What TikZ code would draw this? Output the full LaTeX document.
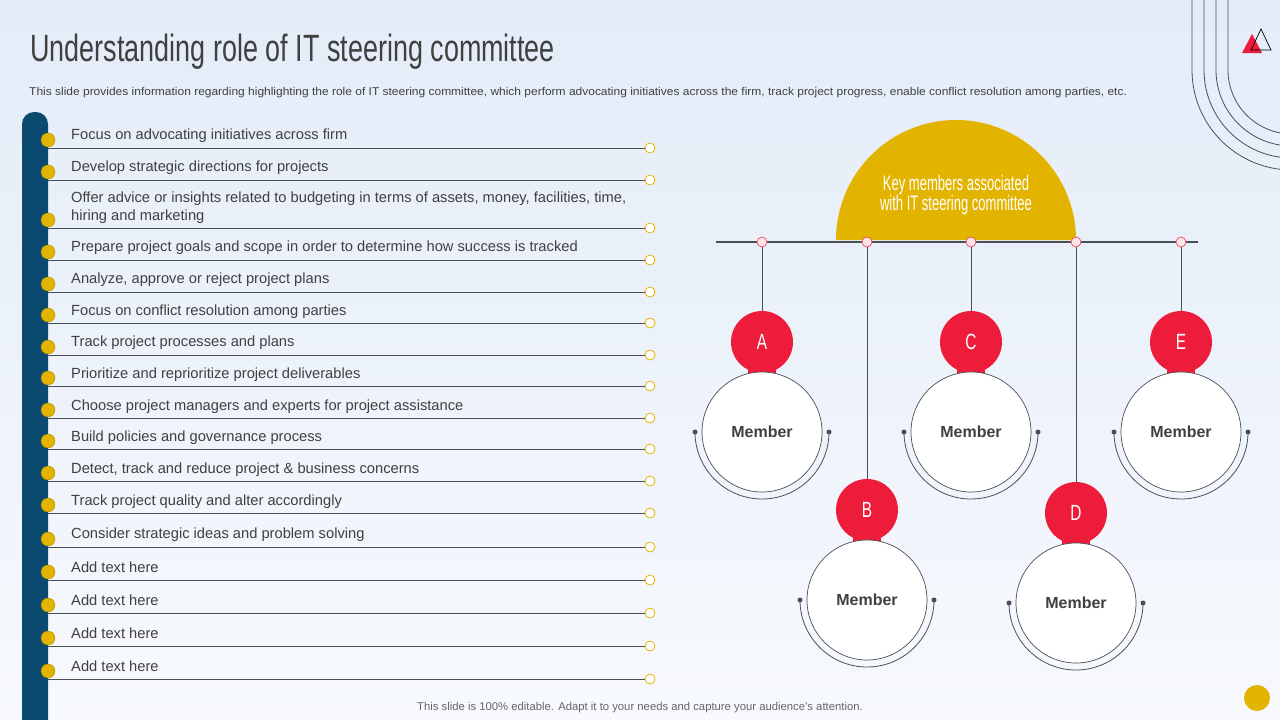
\documentclass[tikz,border=0pt]{standalone}
\usepackage{fontspec}
\usepackage{graphicx}
\setmainfont{Liberation Sans}
\definecolor{bgt}{HTML}{E3ECF8}
\definecolor{bgb}{HTML}{F7F9FD}
\definecolor{navy}{HTML}{0B4A6F}
\definecolor{gold}{HTML}{E2B400}
\definecolor{redc}{HTML}{EE1C3B}
\definecolor{txt}{HTML}{404040}
\definecolor{ln}{HTML}{4A4F57}
\tikzset{
 itemtxt/.style={anchor=base west,text=txt,font=\fontsize{14.7}{18}\selectfont,align=left,inner sep=0},
 golddot/.style={circle,fill=gold,draw=gold!70!black,line width=0.3pt,minimum size=14pt,inner sep=0},
 opendot/.style={circle,draw=gold,fill=white,line width=0.8pt,minimum size=10pt,inner sep=0},
 pinkdot/.style={circle,draw=redc!80,fill=pink!40,line width=0.7pt,minimum size=10pt,inner sep=0},
 redc/.style={circle,fill=redc,minimum size=62pt,inner sep=0,text=white,font=\fontsize{22}{22}\selectfont},
 memc/.style={circle,draw=ln,fill=white,line width=0.7pt,minimum size=120pt,inner sep=0,text=txt,font=\bfseries\fontsize{16}{18}\selectfont},
}
\begin{document}
\begin{tikzpicture}[x=1pt,y=-1pt]
\useasboundingbox (0,0) rectangle (1280,720);
\shade[top color=bgt,bottom color=bgb] (0,0) rectangle (1280,720);
% top right arcs
\begin{scope}
\clip (1180,0) rectangle (1280,200);
\foreach \x/\r in {1192/100,1204/88,1216/76,1228/64}{
 \draw[ln,line width=0.8pt] (\x,-5) -- (\x,70) arc[start angle=180,end angle=90,radius=\r];
}
\end{scope}
\fill[redc] (1252,34) -- (1262,53) -- (1242,53) -- cycle;
\draw[black,line width=0.7pt] (1261,29) -- (1271,50) -- (1251,50) -- cycle;
% title
\node[anchor=west,inner sep=0,text=txt] (title) at (30,52) {\scalebox{0.71}[1]{\fontsize{38}{38}\selectfont Understanding role of IT steering committee}};
\node[anchor=west,inner sep=0,text=txt,font=\fontsize{11.3}{13}\selectfont] (sub) at (29,93) {\scalebox{1.06}[1]{This slide provides information regarding highlighting the role of IT steering committee, which perform advocating initiatives across the firm, track project progress, enable conflict resolution among parties, etc.}};
% blue bar
\fill[navy,rounded corners=12pt] (22,112) rectangle (48,740);
% list
\foreach \ly [count=\i] in {148,180,228,260,292,323,355,386,418,449,481,513,547,580,613,646,679}{
 \node[opendot] (o\i) at (650,\ly) {};
 \node[golddot] (g\i) at (48,\ly-8) {};
 \draw[ln,line width=0.8pt] (48,\ly) -- (o\i.west);
}
\foreach \ly/\t [count=\i] in {
139/Focus on advocating initiatives  across firm,
171/Develop strategic directions for projects,
220/{Offer advice or insights related to budgeting in terms of assets, money, facilities, time,\\hiring and marketing},
251/Prepare project goals and scope in order to determine how success is tracked,
283/{Analyze, approve or reject project plans},
315/Focus on conflict resolution among parties,
346/Track project processes and plans,
378/Prioritize and reprioritize project deliverables,
410/Choose project managers and experts for project assistance,
441/Build policies and governance process,
473/{Detect, track and reduce project \& business concerns},
505/Track project quality and alter accordingly,
538/Consider strategic ideas and problem solving,
572/Add text here,
605/Add text here,
638/Add text here,
671/Add text here}{
 \node[itemtxt] (t\i) at (71,\ly) {\t};
}
% right diagram
\fill[gold] (836,240) arc[start angle=180,end angle=360,radius=120] -- cycle;
\node[text=white,align=center,inner sep=0] (head) at (956,195) {\scalebox{0.62}[1]{\fontsize{21}{23}\selectfont Key members associated}\\\scalebox{0.62}[1]{\fontsize{21}{23}\selectfont with IT steering committee}};
\coordinate (bl) at (716,242); \coordinate (br) at (1198,242);
\draw[ln,line width=2pt] (bl) -- (br);
\foreach \n/\x/\ry/\my in {A/762/342/432,B/867/510/600,C/971/342/432,D/1076/513/603,E/1181/342/432}{
 \node[pinkdot] (p\n) at (\x,242) {};
 \node[redc] (r\n) at (\x,\ry) {\scalebox{0.7}[1]{\n}};
 \fill[redc] (\x-14,\ry+20) rectangle (\x+14,\my-55);
 \node[memc] (m\n) at (\x,\my) {Member};
 \draw[ln,line width=0.8pt] (p\n.south) -- (r\n.north);
 \draw[ln,line width=0.8pt] (\x-67,\my) arc[start angle=180,end angle=0,radius=67];
 \fill[ln] (\x-67,\my) circle (2.5pt) (\x+67,\my) circle (2.5pt);
}
\fill[gold] (1257,698) circle (13);
\node[text=txt!80,font=\fontsize{11.3}{13}\selectfont] (foot) at (640,708) {This slide is 100\% editable. Adapt it to your needs and capture your audience's attention.};
\end{tikzpicture}
\end{document}
